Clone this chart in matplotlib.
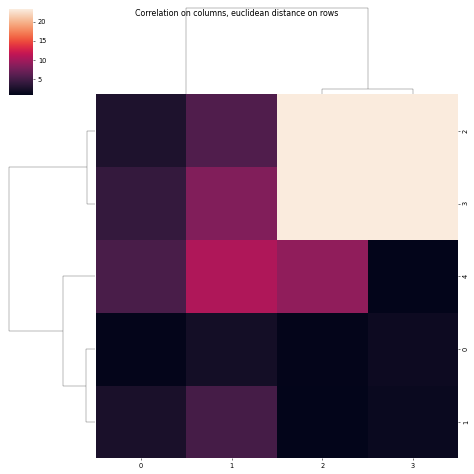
import numpy as np
import pandas as pd
import seaborn as sns
from matplotlib import pyplot as plt
from scipy.cluster import hierarchy

col_0 = [1.1, 2.5, 2.8, 4.1, 5.3]
col_1 = [2.2, 5.0, 5.6, 8.2, 10.6]
col_2 = [1.1, 1.0, 23.2, 23.2, 9.0]
col_3 = [1.7, 1.6, 23.2, 23.2, 1.0]

data = pd.DataFrame({0: col_0, 1: col_1, 2: col_2, 3: col_3})

row_link = hierarchy.linkage(data.values, method='average', metric='euclidean')
col_link = hierarchy.linkage(data.values.T, method='average', metric='correlation')

g = sns.clustermap(data, row_linkage=row_link, col_linkage=col_link,
                   figsize=(10, 10))
g.gs.update(left=0.01, right=0.967, bottom=0.033, top=0.993)
g.ax_cbar.set_position((0.02, 0.8, 0.05, 0.18))

# the zero-height link between columns 0 and 1 sits under the heatmap edge
lo, hi = g.ax_col_dendrogram.get_ylim()
g.ax_col_dendrogram.set_ylim(hi * 0.004, hi)

g.figure.suptitle('Correlation on columns, euclidean distance on rows')

g.figure.savefig('out.png', dpi=47.4)
